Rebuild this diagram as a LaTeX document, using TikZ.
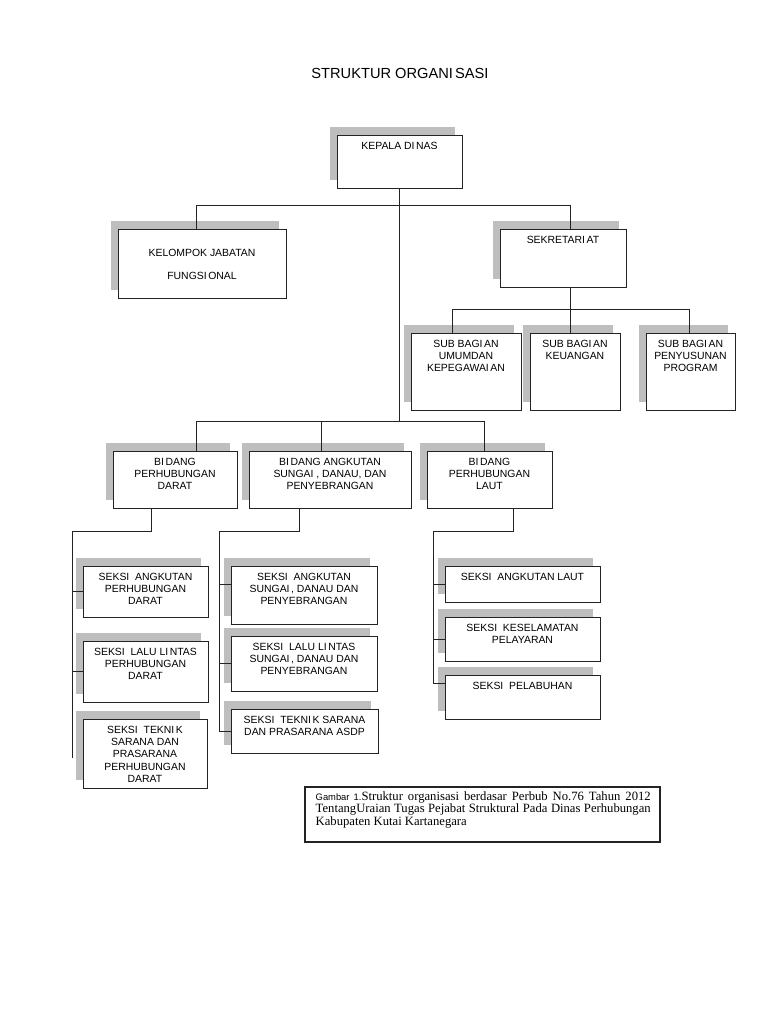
\documentclass[tikz,border=0pt]{standalone}
\usepackage{fontspec}
\setmainfont{Liberation Sans}
\setsansfont{Liberation Sans}
\newfontfamily\capserif{Liberation Serif}
\usetikzlibrary{positioning,fit,shadows}
\definecolor{shadegray}{RGB}{190,190,190}
\definecolor{linegray}{RGB}{35,35,35}
\newcommand{\gp}{\kern0.15em}
% one unit of the chart: box with shadow, text at its top
\newcommand{\unit}[5][6.1pt]{\node[unit, fit={#3 #4}] (#2) {};
	\node[unittext, anchor=north] (#2-t) at ([yshift=-#1]#2.north) {#5};}
\tikzset{
	unit/.style={draw=linegray, fill=white, line width=0.85pt, inner sep=0pt,
		drop shadow={shadow xshift=-6.4pt, shadow yshift=6.6pt, opacity=1, fill=shadegray}},
	unittext/.style={inner sep=0pt, align=center, font=\fontsize{8.9}{10.5}\selectfont},
	link/.style={draw=linegray, line width=0.8pt},
	frame/.style={draw=linegray, line width=0.9pt, inner sep=0pt},
	captext/.style={inner sep=0pt, align=left, font=\capserif\fontsize{10.8}{9.8}\selectfont}
}

\begin{document}
\begin{tikzpicture}[x=0.03cm, y=-0.03cm]
	\useasboundingbox (0,0) rectangle (768,1024);

	\node[font=\fontsize{12.5}{15}\selectfont] (title) at (400,73) {STRUKTUR ORGANI\gp SASI};

	% top level
	\unit{kepala}{(337,135)}{(462,188)}{KEPALA DI\gp NAS}
	\unit[17.1pt]{kelompok}{(118,229)}{(286,298)}{KELOMPOK JABATAN\\[9.9pt]FUNGSI\gp ONAL}
	\unit{sekr}{(500,229)}{(626,287)}{SEKRETARI\gp AT}

	% sub bagian
	\unit{umum}{(411,333)}{(521,410)}{SUB BAGI\gp AN\\UMUMDAN\\KEPEGAWAI\gp AN}
	\unit{keu}{(530,333)}{(620,410)}{SUB BAGI\gp AN\\KEUANGAN}
	\unit{prog}{(646,333)}{(735,410)}{SUB BAGI\gp AN\\PENYUSUNAN\\PROGRAM}

	% bidang
	\unit{darat}{(113,451)}{(237,508)}{BI\gp DANG\\PERHUBUNGAN\\DARAT}
	\unit{angk}{(249,451)}{(411,508)}{BI\gp DANG ANGKUTAN\\SUNGAI , DANAU, DAN\\PENYEBRANGAN}
	\unit{laut}{(427,451)}{(552,508)}{BI\gp DANG\\PERHUBUNGAN\\LAUT}

	% seksi darat
	\unit{ds1}{(83,566)}{(208,617)}{SEKSI\ \ ANGKUTAN\\PERHUBUNGAN\\DARAT}
	\unit{ds2}{(83,641)}{(208,702)}{SEKSI\ \ LALU LI\gp NTAS\\PERHUBUNGAN\\DARAT}
	\unit{ds3}{(83,719)}{(207,788)}{SEKSI\ \ TEKNI\gp K\\SARANA DAN\\PRASARANA\\PERHUBUNGAN\\DARAT}

	% seksi angkutan sungai
	\unit{as1}{(231,566)}{(377,624)}{SEKSI\ \ ANGKUTAN\\SUNGAI\gp, DANAU DAN\\PENYEBRANGAN}
	\unit{as2}{(231,636)}{(377,691)}{SEKSI\ \ LALU LI\gp NTAS\\SUNGAI\gp, DANAU DAN\\PENYEBRANGAN}
	\unit{as3}{(231,709)}{(378,753)}{SEKSI\ \ TEKNI\gp K SARANA\\DAN PRASARANA ASDP}

	% seksi laut
	\unit{ls1}{(445,566)}{(600,602)}{SEKSI\ \ ANGKUTAN LAUT}
	\unit{ls2}{(445,617)}{(600,661)}{SEKSI\ \ KESELAMATAN\\PELAYARAN}
	\unit{ls3}{(445,675)}{(600,719)}{SEKSI\ \ PELABUHAN}

	% junctions
	\coordinate (topL) at (196,205);
	\coordinate (topR) at (570,205);
	\coordinate (subL) at (452,309);
	\coordinate (subR) at (689,309);
	\coordinate (bidL) at (196,421);
	\coordinate (bidM) at (321,421);
	\coordinate (bidR) at (484,421);
	\coordinate (dJ) at (151,531);
	\coordinate (dL) at (72,531);
	\coordinate (dEnd) at (72,758);
	\coordinate (aJ) at (299,531);
	\coordinate (aL) at (219,531);
	\coordinate (lJ) at (513,531);
	\coordinate (lL) at (433,531);
	\coordinate (as1s) at ([yshift=9.4pt]as1.west);
	\coordinate (ls3s) at ([yshift=11.9pt]ls3.west);

	% connectors
	\draw[link] (kepala.south) -- (kepala.south |- bidR);
	\draw[link] (topL |- kelompok.north) -- (topL) -- (topR) -- (topR |- sekr.north);
	\draw[link] (topR |- sekr.south) -- (topR |- keu.north);
	\draw[link] (subL |- umum.north) -- (subL) -- (subR) -- (subR |- prog.north);
	\draw[link] (bidL |- darat.north) -- (bidL) -- (bidR) -- (bidR |- laut.north);
	\draw[link] (bidM) -- (bidM |- angk.north);

	\draw[link] (dJ |- darat.south) -- (dJ) -- (dL) -- (dEnd);
	\draw[link] (ds1.west -| dL) -- (ds1.west);
	\draw[link] (ds2.west -| dL) -- (ds2.west);

	\draw[link] (aJ |- angk.south) -- (aJ) -- (aL) -- (aL |- as3.west) -- (as3.west);
	\draw[link] (as1s -| aL) -- (as1s);
	\draw[link] (as2.west -| aL) -- (as2.west);

	\draw[link] (lJ |- laut.south) -- (lJ) -- (lL) -- (lL |- ls3s) -- (ls3s);
	\draw[link] (ls1.west -| lL) -- (ls1.west);
	\draw[link] (ls2.west -| lL) -- (ls2.west);

	% caption
	\node[frame, fit={(305,787) (660,842)}] (caption) {};
	\node[captext, anchor=north west] (caption-t) at ([xshift=9.4pt, yshift=-4.1pt]caption.north west)
		{\makebox[10.05cm][s]{{\sffamily\fontsize{8}{9}\selectfont Gambar 1.}Struktur organisasi berdasar Perbub No.76 Tahun 2012}\\
		\makebox[10.05cm][s]{TentangUraian Tugas Pejabat Struktural Pada Dinas Perhubungan}\\
		Kabupaten Kutai Kartanegara};
\end{tikzpicture}
\end{document}
